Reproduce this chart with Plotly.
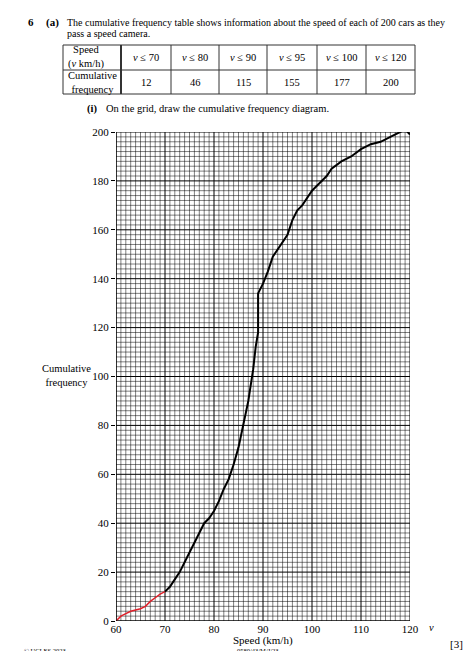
import plotly.graph_objects as go

speed_heads = ["v ≤ 70", "v ≤ 80", "v ≤ 90", "v ≤ 95", "v ≤ 100", "v ≤ 120"]
cum_freq = [12, 46, 115, 155, 177, 200]
red_x = [60, 61, 62, 63, 64, 65, 66, 67, 68, 69, 70]
red_y = [0, 2, 3, 4, 4.5, 5, 6, 8, 9.5, 11, 12]
blk_x = [70, 71, 72, 73, 74, 75, 76, 77, 78, 79, 80, 81, 82, 83, 84, 85, 86, 87, 88, 88.5, 89, 89, 90, 91, 92, 93, 94, 95, 96, 97, 98, 99, 100, 101, 102, 103, 104, 106, 108, 110, 112, 114, 116, 118, 119, 120]
blk_y = [12, 14, 17, 20, 24, 28, 32, 36, 40, 42, 45, 49, 54, 58, 64, 71, 80, 90, 103, 112, 118, 134, 138, 143, 149, 152, 155, 158, 164, 168, 170, 173, 176, 178, 180, 182, 185, 188, 190, 193, 195, 196, 198, 200, 201, 199]

F = "'Liberation Serif', 'DejaVu Serif', serif"
W, H = 474, 651
L, R, T, B = 108, 402, 124, 613
def px(x): return (x - L) / (R - L)
def py(y): return (B - y) / (B - T)

fig = go.Figure()
fig.add_trace(go.Scatter(x=red_x, y=red_y, mode="lines", line=dict(color="#e0202a", width=1.5), hoverinfo="skip"))
fig.add_trace(go.Scatter(x=blk_x, y=blk_y, mode="lines", line=dict(color="black", width=2), hoverinfo="skip", cliponaxis=False))

shapes = []
for v in range(60, 121):
    shapes.append(dict(type="line", x0=v, x1=v, y0=0, y1=200, xref="x", yref="y", layer="below",
                       line=dict(color="black", width=1.0 if v % 10 == 0 else 0.5)))
for v in range(0, 201, 2):
    shapes.append(dict(type="line", x0=60, x1=120, y0=v, y1=v, xref="x", yref="y", layer="below",
                       line=dict(color="black", width=1.0 if v % 20 == 0 else 0.5)))
shapes.append(dict(type="line", x0=60, x1=60, y0=0, y1=205, xref="x", yref="y", line=dict(color="black", width=1.2)))
shapes.append(dict(type="line", x0=60, x1=123, y0=0, y1=0, xref="x", yref="y", line=dict(color="black", width=1.2)))
shapes.append(dict(type="path", path="M 58.8 203 L 61.2 203 L 60 208 Z", xref="x", yref="y", fillcolor="black", line=dict(width=0)))
shapes.append(dict(type="path", path="M 122 -1.3 L 122 1.3 L 124.5 0 Z", xref="x", yref="y", fillcolor="black", line=dict(width=0)))

cols = [55, 113, 163, 211, 259, 309, 358, 407]
rows = [37, 62, 86]
for cx in cols:
    shapes.append(dict(type="line", xref="paper", yref="paper", x0=px(cx), x1=px(cx), y0=py(rows[0]), y1=py(rows[2]),
                       line=dict(color="#333", width=2 if cx == 113 else 1)))
for ry in rows:
    shapes.append(dict(type="line", xref="paper", yref="paper", x0=px(cols[0]), x1=px(cols[-1]), y0=py(ry), y1=py(ry),
                       line=dict(color="#333", width=1)))

ann = []
def t(x, y, s, size=11, xa="left"):
    ann.append(dict(x=px(x), y=py(y), xref="paper", yref="paper", text=s, showarrow=False,
                    xanchor=xa, yanchor="middle", font=dict(family=F, size=size, color="black")))
t(18, 14, "<b>6</b>"); t(36, 14, "<b>(a)</b>")
t(57, 14, "The cumulative frequency table shows information about the speed of each of 200 cars as they", 10)
t(57, 26, "pass a speed camera.", 10)
t(58, 49, "Speed<br>(<i>v</i> km/h)", 10.5)
t(58, 74, "Cumulative<br>frequency", 10.5)
for i in range(6):
    cx = (cols[i + 1] + cols[i + 2]) / 2
    t(cx, 49, "<i>v</i> " + speed_heads[i][2:], 10.5, "center")
    t(cx, 74, str(cum_freq[i]), 10.5, "center")
t(77, 101, "<b>(i)</b>", 10.5); t(96, 101, "On the grid, draw the cumulative frequency diagram.", 10.5)
t(58, 367, "Cumulative<br>frequency", 10.5, "center")
t(255, 632, "Speed (km/h)", 11, "center")
t(419, 619, "<i>v</i>", 10.5)
t(440, 636, "[3]", 11)
t(14, 642, "© UCLES 2023", 6.5)
t(250, 642, "0580/43/M/J/23", 6.5, "center")

fig.update_layout(
    width=W, height=H, margin=dict(l=L, r=W - R, t=T, b=H - B),
    paper_bgcolor="white", plot_bgcolor="white", showlegend=False,
    shapes=shapes, annotations=ann,
    xaxis=dict(range=[60, 120], tickvals=list(range(60, 121, 10)), showgrid=False, zeroline=False,
               ticks="", tickfont=dict(family=F, size=11, color="black"), fixedrange=True),
    yaxis=dict(range=[0, 200], tickvals=list(range(0, 201, 20)), showgrid=False, zeroline=False,
               ticks="outside", ticklen=4, tickcolor="black", tickfont=dict(family=F, size=11, color="black"), fixedrange=True),
)
fig.write_html("out.html")
